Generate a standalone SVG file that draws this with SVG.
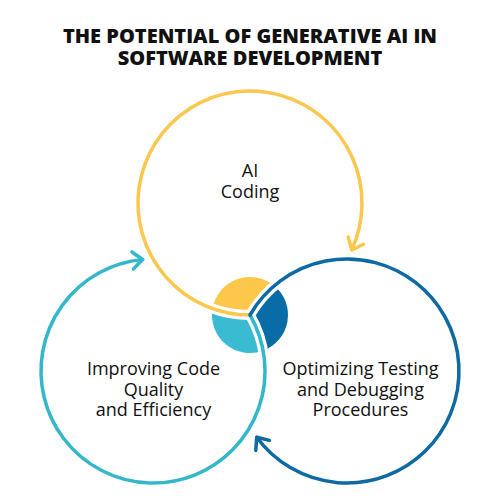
<svg xmlns="http://www.w3.org/2000/svg" width="500" height="500" viewBox="0 0 500 500">
  <style>
    .title { font-family: "Open Sans", "Liberation Sans", sans-serif; font-weight: 800; font-size: 20px; fill: #111; text-anchor: middle; }
    .label { font-family: "Open Sans", "Liberation Sans", sans-serif; font-weight: 400; font-size: 18px; fill: #111; text-anchor: middle; }
    .arc { fill: none; stroke-width: 3.5; stroke-linecap: round; }
    .halo { fill: none; stroke: #fff; stroke-width: 10; }
    .yellow { stroke: #FBC74E; }
    .teal { stroke: #35B7CB; }
    .blue { stroke: #0D6AA2; }
  </style>
  <defs>
    <marker id="arrY" markerUnits="userSpaceOnUse" viewBox="-16 -12 20 24" markerWidth="20" markerHeight="24" refX="0" refY="0" orient="auto">
      <path d="M -10 -8.5 L 0 0 L -10 8.5" fill="none" stroke="#FBC74E" stroke-width="3.5" stroke-linecap="round" stroke-linejoin="round"/>
    </marker>
    <marker id="arrT" markerUnits="userSpaceOnUse" viewBox="-16 -12 20 24" markerWidth="20" markerHeight="24" refX="0" refY="0" orient="auto">
      <path d="M -10 -8.5 L 0 0 L -10 8.5" fill="none" stroke="#35B7CB" stroke-width="3.5" stroke-linecap="round" stroke-linejoin="round"/>
    </marker>
    <marker id="arrB" markerUnits="userSpaceOnUse" viewBox="-16 -12 20 24" markerWidth="20" markerHeight="24" refX="0" refY="0" orient="auto">
      <path d="M -10 -8.5 L 0 0 L -10 8.5" fill="none" stroke="#0D6AA2" stroke-width="3.5" stroke-linecap="round" stroke-linejoin="round"/>
    </marker>
    <clipPath id="hub">
      <circle cx="250" cy="315" r="42"/>
    </clipPath>
  </defs>

  <rect width="500" height="500" fill="#fff"/>

  <g id="title">
    <text class="title" x="250" y="43">THE POTENTIAL OF GENERATIVE AI IN</text>
    <text class="title" x="250" y="65">SOFTWARE DEVELOPMENT</text>
  </g>

  <g id="hub-sectors">
    <path d="M 250 315 A 112 112 0 0 1 274.32 285.8 A 38 38 0 0 0 212.55 308.55 A 112 112 0 0 0 250 315 Z" fill="#FDC74B"/>
    <path d="M 250 315 A 112 112 0 0 1 263.14 350.66 A 38 38 0 0 0 274.32 285.8 A 112 112 0 0 0 250 315 Z" fill="#0A6CA7"/>
    <path d="M 250 315 A 112 112 0 0 1 212.55 308.55 A 38 38 0 0 0 263.14 350.66 A 112 112 0 0 0 250 315 Z" fill="#3BBBD1"/>
  </g>

  <g id="connectors">
    <g clip-path="url(#hub)">
      <path class="halo" d="M 250 315 A 112 112 0 1 1 351.75 249.8"/>
      <path class="halo" d="M 250 315 A 112 112 0 1 1 142.65 259.5"/>
      <path class="halo" d="M 250 315 A 112 112 0 1 1 256.7 437.3"/>
    </g>
    <path class="arc yellow" d="M 250 315 A 112 112 0 1 1 351.75 249.8" marker-end="url(#arrY)"/>
    <path class="arc teal" d="M 250 315 A 112 112 0 1 1 142.65 259.5" marker-end="url(#arrT)"/>
    <path class="arc blue" d="M 250 315 A 112 112 0 1 1 256.7 437.3" marker-end="url(#arrB)"/>
  </g>

  <g id="node-ai-coding">
    <text class="label" x="250" y="177">AI</text>
    <text class="label" x="250" y="198">Coding</text>
  </g>

  <g id="node-code-quality">
    <text class="label" x="153.5" y="375">Improving Code</text>
    <text class="label" x="153.5" y="395.5">Quality</text>
    <text class="label" x="153.5" y="416">and Efficiency</text>
  </g>

  <g id="node-testing-debugging">
    <text class="label" x="360.5" y="375">Optimizing Testing</text>
    <text class="label" x="360.5" y="395.5">and Debugging</text>
    <text class="label" x="360.5" y="416">Procedures</text>
  </g>
</svg>
